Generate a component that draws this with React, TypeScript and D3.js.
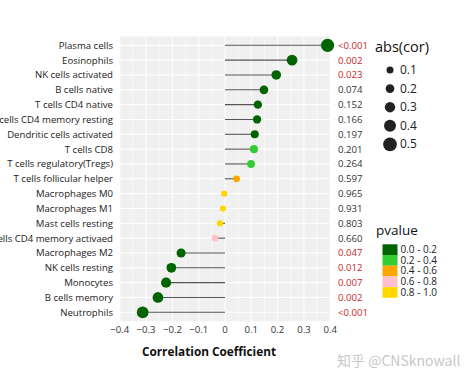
import React from "react";
import * as d3 from "d3";

const cells = [
  "Plasma cells",
  "Eosinophils",
  "NK cells activated",
  "B cells native",
  "T cells CD4 native",
  "T cells CD4 memory resting",
  "Dendritic cells activated",
  "T cells CD8",
  "T cells regulatory(Tregs)",
  "T cells follicular helper",
  "Macrophages M0",
  "Macrophages M1",
  "Mast cells resting",
  "T-cells CD4 memory activaed",
  "Macrophages M2",
  "NK cells resting",
  "Monocytes",
  "B cells memory",
  "Neutrophils",
];
const corValues = [0.39, 0.255, 0.195, 0.148, 0.125, 0.122, 0.113, 0.11, 0.099, 0.044, -0.003, -0.008, -0.019, -0.038, -0.167, -0.204, -0.224, -0.255, -0.313];
const pValues = [0.0005, 0.002, 0.023, 0.074, 0.152, 0.166, 0.197, 0.201, 0.264, 0.597, 0.965, 0.931, 0.803, 0.66, 0.047, 0.012, 0.007, 0.002, 0.0005];
const pLabels = ["<0.001", "0.002", "0.023", "0.074", "0.152", "0.166", "0.197", "0.201", "0.264", "0.597", "0.965", "0.931", "0.803", "0.660", "0.047", "0.012", "0.007", "0.002", "<0.001"];
const xTicks = [-0.4, -0.3, -0.2, -0.1, 0, 0.1, 0.2, 0.3, 0.4];
const sizeBreaks = [0.1, 0.2, 0.3, 0.4, 0.5];
const pBins = ["0.0 - 0.2", "0.2 - 0.4", "0.4 - 0.6", "0.6 - 0.8", "0.8 - 1.0"];
const pColors = ["#006400", "#32CD32", "#FFA500", "#FFC0CB", "#FFD700"];

const W = 474;
const H = 381;
const FONT = "'Open Sans', 'Noto Sans', sans-serif";

export default function App() {
  const x = d3.scaleLinear().domain([-0.4, 0.4]).range([119.8, 330.2]);
  const y = d3.scalePoint<string>().domain(cells).range([45.3, 312.3]);
  const step = y.step();
  const top = (y(cells[0]) as number) - 0.6 * step;
  const bottom = (y(cells[cells.length - 1]) as number) + 0.6 * step;
  const r = d3.scaleLinear().domain([0, 0.5]).range([3, 7.6]);
  const color = d3.scaleThreshold<number, string>().domain([0.2, 0.4, 0.6, 0.8]).range(pColors);
  const minor = d3.range(-0.35, 0.4, 0.1);

  return (
    <svg width={W} height={H} style={{ position: "absolute", left: 0, top: 0, background: "#fff" }} fontFamily={FONT}>
      <rect x={x(-0.4)} y={top} width={x(0.4) - x(-0.4)} height={bottom - top} fill="#F0F0F0" />
      {minor.map((t, i) => (
        <line key={"mn" + i} x1={x(t)} x2={x(t)} y1={top} y2={bottom} stroke="#fff" strokeWidth={0.5} />
      ))}
      {xTicks.map((t) => (
        <line key={"mj" + t} x1={x(t)} x2={x(t)} y1={top} y2={bottom} stroke="#fff" strokeWidth={1} />
      ))}
      {cells.map((c) => (
        <line key={"h" + c} x1={x(-0.4)} x2={x(0.4)} y1={y(c)} y2={y(c)} stroke="#fff" strokeWidth={1} />
      ))}
      {cells.map((c, i) => (
        <line key={"s" + c} x1={x(0)} x2={x(corValues[i])} y1={y(c)} y2={y(c)} stroke="#555" strokeWidth={1.1} />
      ))}
      {cells.map((c, i) => (
        <circle key={"p" + c} cx={x(corValues[i])} cy={y(c)} r={r(Math.abs(corValues[i]))} fill={color(pValues[i])} />
      ))}
      {cells.map((c) => (
        <text key={"l" + c} x={113} y={(y(c) as number) + 3.5} textAnchor="end" fontSize={9.6} fill="#222">
          {c}
        </text>
      ))}
      {cells.map((c, i) => (
        <text key={"pv" + c} x={338} y={(y(c) as number) + 3.5} fontSize={9.6} fill={pValues[i] < 0.05 ? "#C62828" : "#333"}>
          {pLabels[i]}
        </text>
      ))}
      {xTicks.map((t) => (
        <text key={"xt" + t} x={x(t)} y={332.5} textAnchor="middle" fontSize={9.6} fill="#333">
          {d3.format("")(Math.round(t * 10) / 10)}
        </text>
      ))}
      <text x={209} y={356} textAnchor="middle" fontSize={11.8} fontWeight="bold" fill="#111">
        Correlation Coefficient
      </text>

      <text x={375} y={52} fontSize={14.5} fill="#111">abs(cor)</text>
      {sizeBreaks.map((b, i) => (
        <g key={"sb" + b}>
          <circle cx={390} cy={70 + i * 18.6} r={r(b) * 0.9} fill="#222" />
          <text x={400} y={70 + i * 18.6 + 4} fontSize={12} fill="#222">{b}</text>
        </g>
      ))}

      <text x={376} y={235} fontSize={13.5} fill="#111">pvalue</text>
      {pBins.map((b, i) => (
        <g key={"pb" + b}>
          <rect x={382.5} y={244.3 + i * 10.7} width={15} height={10.7} fill={pColors[i]} />
          <text x={400.5} y={244.3 + i * 10.7 + 8.6} fontSize={10} fill="#222">{b}</text>
        </g>
      ))}

      <text x={337} y={366} fontSize={14} fill="#c8c8c8" fontFamily="'Noto Sans CJK SC', sans-serif">
        知乎 @CNSknowall
      </text>
    </svg>
  );
}
